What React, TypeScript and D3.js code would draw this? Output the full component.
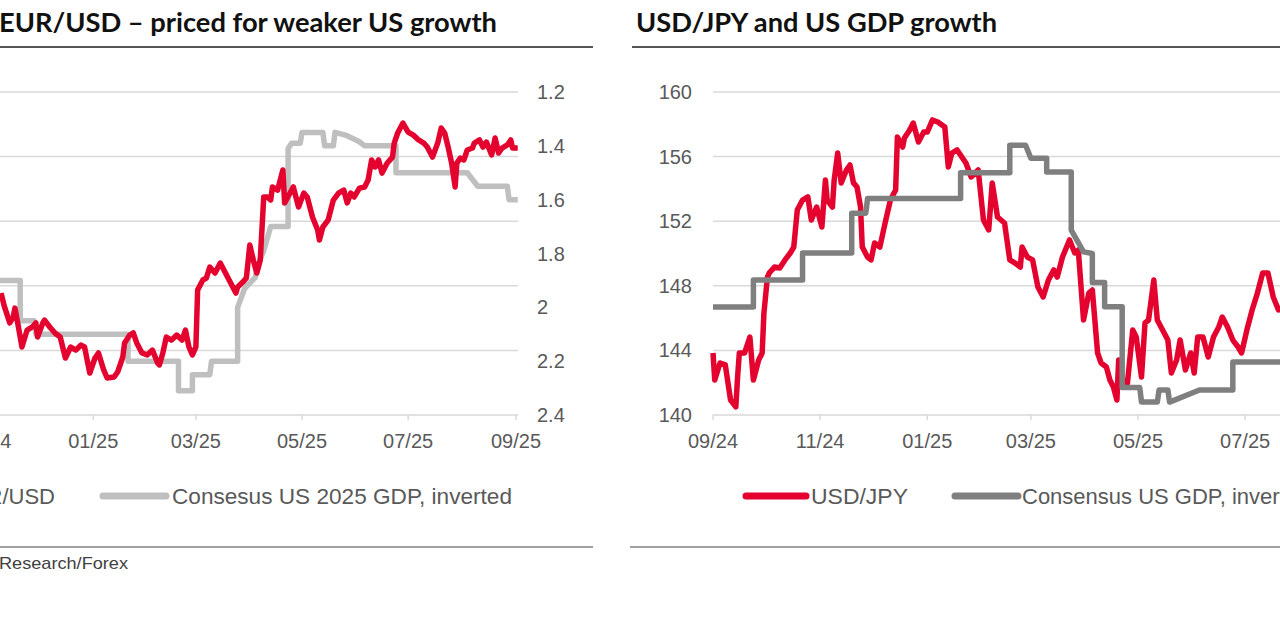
import React from "react";
import * as d3 from "d3";

// ---------- DATA ----------
const eurusd: [string, number][] = [
  ["2024-11-09", 1.0755], ["2024-11-11", 1.0669], ["2024-11-14", 1.057], ["2024-11-16", 1.0607],
  ["2024-11-17", 1.0662], ["2024-11-19", 1.0545], ["2024-11-21", 1.0421], ["2024-11-24", 1.0526],
  ["2024-11-27", 1.0545], ["2024-11-29", 1.057], ["2024-11-30", 1.0483], ["2024-12-03", 1.057],
  ["2024-12-04", 1.0588], ["2024-12-07", 1.0545], ["2024-12-10", 1.0508], ["2024-12-13", 1.0483],
  ["2024-12-16", 1.0353], ["2024-12-19", 1.0421], ["2024-12-22", 1.0402], ["2024-12-25", 1.0433],
  ["2024-12-27", 1.0421], ["2024-12-30", 1.026], ["2025-01-02", 1.0353], ["2025-01-04", 1.0384],
  ["2025-01-07", 1.0279], ["2025-01-09", 1.0229], ["2025-01-13", 1.0235], ["2025-01-15", 1.0266],
  ["2025-01-18", 1.0359], ["2025-01-19", 1.0446], ["2025-01-22", 1.0495], ["2025-01-24", 1.0508],
  ["2025-01-26", 1.0446], ["2025-01-29", 1.0384], ["2025-02-01", 1.0372], ["2025-02-04", 1.0402],
  ["2025-02-07", 1.0322], ["2025-02-08", 1.031], ["2025-02-10", 1.0384], ["2025-02-12", 1.0483],
  ["2025-02-15", 1.0464], ["2025-02-18", 1.0495], ["2025-02-21", 1.0464], ["2025-02-23", 1.0526],
  ["2025-02-25", 1.0421], ["2025-02-27", 1.0372], ["2025-03-01", 1.0421], ["2025-03-02", 1.0774],
  ["2025-03-05", 1.0836], ["2025-03-07", 1.0848], ["2025-03-09", 1.0916], ["2025-03-12", 1.0879],
  ["2025-03-15", 1.0941], ["2025-03-18", 1.0879], ["2025-03-21", 1.0817], ["2025-03-24", 1.0755],
  ["2025-03-25", 1.0792], ["2025-03-28", 1.0823], ["2025-03-30", 1.0848], ["2025-04-01", 1.1052],
  ["2025-04-03", 1.096], ["2025-04-05", 1.0879], ["2025-04-07", 1.096], ["2025-04-09", 1.135],
  ["2025-04-11", 1.135], ["2025-04-13", 1.1331], ["2025-04-14", 1.1412], ["2025-04-17", 1.1393],
  ["2025-04-20", 1.1517], ["2025-04-21", 1.1313], ["2025-04-26", 1.1412], ["2025-04-29", 1.1288],
  ["2025-05-02", 1.1374], ["2025-05-04", 1.135], ["2025-05-07", 1.1226], ["2025-05-10", 1.1146],
  ["2025-05-11", 1.1084], ["2025-05-13", 1.1164], ["2025-05-16", 1.1207], ["2025-05-19", 1.1331],
  ["2025-05-22", 1.1374], ["2025-05-25", 1.1393], ["2025-05-27", 1.1313], ["2025-05-29", 1.1374],
  ["2025-05-31", 1.135], ["2025-06-03", 1.1405], ["2025-06-06", 1.1412], ["2025-06-08", 1.1455],
  ["2025-06-10", 1.1579], ["2025-06-12", 1.1536], ["2025-06-14", 1.1579], ["2025-06-16", 1.1498],
  ["2025-06-19", 1.156], ["2025-06-22", 1.1597], ["2025-06-23", 1.1684], ["2025-06-25", 1.1746],
  ["2025-06-28", 1.1808], ["2025-07-01", 1.1752], ["2025-07-04", 1.1733], ["2025-07-07", 1.1703],
  ["2025-07-10", 1.1684], ["2025-07-12", 1.1659], ["2025-07-15", 1.1597], ["2025-07-18", 1.1684],
  ["2025-07-20", 1.1777], ["2025-07-22", 1.1746], ["2025-07-24", 1.1659], ["2025-07-26", 1.156],
  ["2025-07-28", 1.1412], ["2025-07-29", 1.156], ["2025-07-31", 1.1591], ["2025-08-02", 1.1579],
  ["2025-08-04", 1.1641], ["2025-08-07", 1.1653], ["2025-08-08", 1.1684], ["2025-08-11", 1.1703],
  ["2025-08-13", 1.1659], ["2025-08-15", 1.169], ["2025-08-18", 1.161], ["2025-08-20", 1.1715],
  ["2025-08-22", 1.1622], ["2025-08-24", 1.1653], ["2025-08-27", 1.1672], ["2025-08-29", 1.1703],
  ["2025-08-30", 1.1653], ["2025-09-02", 1.1653],
];

const gdp2025Inverted: [string, number][] = [
  ["2024-11-06", 1.9], ["2024-11-20", 1.9], ["2024-11-20", 2.05], ["2024-11-28", 2.05],
  ["2024-11-29", 2.1], ["2025-01-21", 2.1], ["2025-01-21", 2.2], ["2025-02-19", 2.2],
  ["2025-02-19", 2.31], ["2025-02-27", 2.31], ["2025-02-27", 2.25], ["2025-03-09", 2.25],
  ["2025-03-10", 2.2], ["2025-03-25", 2.2], ["2025-03-25", 2.0], ["2025-03-29", 1.93],
  ["2025-04-04", 1.89], ["2025-04-07", 1.82], ["2025-04-09", 1.79], ["2025-04-13", 1.7],
  ["2025-04-23", 1.7], ["2025-04-23", 1.41], ["2025-04-25", 1.39], ["2025-04-30", 1.39],
  ["2025-05-01", 1.35], ["2025-05-13", 1.35], ["2025-05-14", 1.4], ["2025-05-19", 1.4],
  ["2025-05-20", 1.35], ["2025-05-26", 1.36], ["2025-06-03", 1.385], ["2025-06-06", 1.4],
  ["2025-06-24", 1.4], ["2025-06-24", 1.5], ["2025-08-04", 1.5], ["2025-08-10", 1.55],
  ["2025-08-27", 1.55], ["2025-08-28", 1.6], ["2025-09-02", 1.6],
];

const usdjpy: [string, number][] = [
  ["2024-09-01", 143.84], ["2024-09-02", 142.17], ["2024-09-05", 143.22], ["2024-09-08", 143.1],
  ["2024-09-11", 140.93], ["2024-09-14", 140.5], ["2024-09-15", 142.35], ["2024-09-16", 143.84],
  ["2024-09-19", 143.84], ["2024-09-22", 144.83], ["2024-09-24", 142.17], ["2024-09-27", 143.41],
  ["2024-09-29", 143.84], ["2024-09-30", 146.32], ["2024-10-02", 148.54], ["2024-10-03", 148.79],
  ["2024-10-06", 149.16], ["2024-10-09", 149.1], ["2024-10-12", 149.6], ["2024-10-15", 150.03],
  ["2024-10-17", 150.4], ["2024-10-19", 152.69], ["2024-10-22", 153.31], ["2024-10-25", 153.5],
  ["2024-10-27", 152.07], ["2024-10-30", 152.88], ["2024-11-02", 151.64], ["2024-11-04", 154.55],
  ["2024-11-05", 153.31], ["2024-11-08", 152.88], ["2024-11-09", 154.55], ["2024-11-11", 156.22],
  ["2024-11-13", 154.37], ["2024-11-16", 155.17], ["2024-11-18", 155.48], ["2024-11-20", 154.37],
  ["2024-11-22", 154.12], ["2024-11-24", 152.88], ["2024-11-25", 150.4], ["2024-11-28", 149.78],
  ["2024-11-30", 149.6], ["2024-12-02", 150.65], ["2024-12-05", 150.4], ["2024-12-08", 151.89],
  ["2024-12-11", 153.31], ["2024-12-14", 153.93], ["2024-12-15", 157.21], ["2024-12-18", 156.59],
  ["2024-12-19", 157.15], ["2024-12-22", 157.65], ["2024-12-24", 158.08], ["2024-12-27", 156.9],
  ["2024-12-30", 157.52], ["2025-01-01", 157.52], ["2025-01-04", 158.27], ["2025-01-07", 158.14],
  ["2025-01-11", 157.83], ["2025-01-13", 155.36], ["2025-01-15", 156.22], ["2025-01-18", 156.41],
  ["2025-01-23", 155.6], ["2025-01-26", 154.74], ["2025-01-30", 155.17], ["2025-02-02", 152.07],
  ["2025-02-05", 151.46], ["2025-02-07", 154.37], ["2025-02-10", 152.26], ["2025-02-14", 151.89],
  ["2025-02-17", 149.6], ["2025-02-20", 149.41], ["2025-02-23", 149.16], ["2025-02-24", 150.4],
  ["2025-02-27", 149.78], ["2025-03-02", 149.6], ["2025-03-05", 147.93], ["2025-03-08", 147.31],
  ["2025-03-11", 148.36], ["2025-03-14", 148.98], ["2025-03-16", 148.54], ["2025-03-19", 149.78],
  ["2025-03-23", 150.84], ["2025-03-26", 150.03], ["2025-03-28", 150.22], ["2025-03-31", 145.88],
  ["2025-04-03", 147.55], ["2025-04-05", 147.74], ["2025-04-08", 143.84], ["2025-04-10", 143.22],
  ["2025-04-13", 142.97], ["2025-04-15", 142.17], ["2025-04-17", 141.73], ["2025-04-19", 140.93],
  ["2025-04-20", 143.41], ["2025-04-22", 142.17], ["2025-04-25", 141.98], ["2025-04-28", 145.26],
  ["2025-04-30", 144.83], ["2025-05-03", 142.35], ["2025-05-05", 145.7], ["2025-05-07", 145.88],
  ["2025-05-10", 148.36], ["2025-05-12", 145.88], ["2025-05-15", 145.26], ["2025-05-18", 144.64],
  ["2025-05-20", 142.6], ["2025-05-23", 143.41], ["2025-05-25", 144.64], ["2025-05-28", 142.79],
  ["2025-05-31", 143.84], ["2025-06-02", 142.6], ["2025-06-04", 144.83], ["2025-06-07", 144.83],
  ["2025-06-10", 143.59], ["2025-06-13", 144.83], ["2025-06-16", 145.45], ["2025-06-18", 146.07],
  ["2025-06-21", 145.45], ["2025-06-24", 144.64], ["2025-06-27", 144.21], ["2025-06-29", 143.84],
  ["2025-07-02", 145.26], ["2025-07-05", 146.5], ["2025-07-08", 147.55], ["2025-07-11", 148.79],
  ["2025-07-14", 148.79], ["2025-07-17", 147.31], ["2025-07-20", 146.5], ["2025-07-24", 146.81],
];

const gdpConsensusScaled: [string, number][] = [
  ["2024-09-01", 146.69], ["2024-09-24", 146.69], ["2024-09-24", 148.36], ["2024-10-22", 148.36],
  ["2024-10-22", 150.03], ["2024-11-19", 150.03], ["2024-11-19", 152.5], ["2024-11-27", 152.5],
  ["2024-11-28", 153.4], ["2025-01-20", 153.4], ["2025-01-20", 155.0], ["2025-02-17", 155.0],
  ["2025-02-17", 156.7], ["2025-02-26", 156.7], ["2025-03-01", 155.9], ["2025-03-10", 155.9],
  ["2025-03-10", 155.05], ["2025-03-24", 155.05], ["2025-03-24", 151.45], ["2025-03-31", 150.1],
  ["2025-04-05", 150.0], ["2025-04-05", 148.2], ["2025-04-12", 148.2], ["2025-04-12", 146.7],
  ["2025-04-22", 146.7], ["2025-04-22", 141.7], ["2025-05-02", 141.7], ["2025-05-03", 140.8],
  ["2025-05-12", 140.8], ["2025-05-13", 141.55], ["2025-05-18", 141.55], ["2025-05-19", 140.8],
  ["2025-06-05", 141.55], ["2025-06-24", 141.55], ["2025-06-24", 143.28], ["2025-07-24", 143.28],
];

const xTicks = ["2024-09-01", "2024-11-01", "2025-01-01", "2025-03-01", "2025-05-01", "2025-07-01", "2025-09-01"];
const xDomain = ["2024-09-01", "2025-09-01"];
const eurGrid = [1.0, 1.04, 1.08, 1.12, 1.16, 1.2];
const gdpTicks = [1.2, 1.4, 1.6, 1.8, 2.0, 2.2, 2.4];
const jpyTicks = [140, 144, 148, 152, 156, 160];

const titleLeft = "EUR/USD – priced for weaker US growth";
const titleRight = "USD/JPY and US GDP growth";
const legendLeft = ["EUR/USD", "Consesus US 2025 GDP, inverted"];
const legendRight = ["USD/JPY", "Consensus US GDP, inverted"];
const sourceText = "Research/Forex";

// ---------- STYLE ----------
const RED = "#e4032e";
const GREY_L = "#bfbfbf";
const GREY_D = "#7f7f7f";
const GRID = "#d9d9d9";
const LABEL = "#595959";
const SANS = "'Liberation Sans', Arial, sans-serif";
const TITLE_FONT = "Lato, 'Open Sans', sans-serif";

const parse = d3.utcParse("%Y-%m-%d");
const fmt = d3.utcFormat("%m/%y");

export default function App() {
  const dom = xDomain.map((s) => parse(s) as Date);
  const xL = d3.scaleUtc().domain(dom).range([-119, 516]);
  const xR = d3.scaleUtc().domain(dom).range([713, 1354]);
  const yEur = d3.scaleLinear().domain([1.0, 1.2]).range([415, 92]);
  const yGdp = d3.scaleLinear().domain([1.2, 2.4]).range([92, 415]);
  const yJpy = d3.scaleLinear().domain([140, 160]).range([415, 92]);

  const mk = (x: any, y: any) =>
    d3.line<[string, number]>().x((d) => x(parse(d[0]) as Date)).y((d) => y(d[1]));

  const lineW = 5.5;

  return (
    <svg width={1280} height={640} style={{ position: "absolute", left: 0, top: 0, background: "#fff" }}>
      {/* Titles */}
      <text x={-1} y={32} fontFamily={TITLE_FONT} fontWeight={700} fontSize={26} fill="#111"
        textLength={498} lengthAdjust="spacingAndGlyphs">{titleLeft}</text>
      <text x={636} y={32} fontFamily={TITLE_FONT} fontWeight={700} fontSize={26} fill="#111"
        textLength={361} lengthAdjust="spacingAndGlyphs">{titleRight}</text>
      <line x1={-10} x2={593} y1={47} y2={47} stroke="#555" strokeWidth={2} />
      <line x1={632} x2={1290} y1={47} y2={47} stroke="#555" strokeWidth={2} />

      {/* LEFT PANEL */}
      <g>
        {eurGrid.map((v) => (
          <line key={v} x1={-125} x2={518} y1={yEur(v)} y2={yEur(v)} stroke={GRID} strokeWidth={1.5} />
        ))}
        {xTicks.map((t) => {
          const x = xL(parse(t) as Date);
          return (
            <g key={t}>
              <line x1={x} x2={x} y1={415} y2={420} stroke={GRID} strokeWidth={1.5} />
              <text x={x} y={448} textAnchor="middle" fontFamily={SANS} fontSize={20} fill={LABEL}>
                {fmt(parse(t) as Date)}
              </text>
            </g>
          );
        })}
        {gdpTicks.map((v) => (
          <text key={v} x={537} y={yGdp(v)} dy="0.35em" fontFamily={SANS} fontSize={20} fill={LABEL}>
            {d3.format("~g")(v)}
          </text>
        ))}
        <path d={mk(xL, yGdp)(gdp2025Inverted) || ""} fill="none" stroke={GREY_L} strokeWidth={lineW} strokeLinejoin="round" />
        <path d={mk(xL, yEur)(eurusd) || ""} fill="none" stroke={RED} strokeWidth={lineW} strokeLinejoin="round" />
      </g>

      {/* RIGHT PANEL */}
      <g>
        {jpyTicks.map((v) => (
          <g key={v}>
            <line x1={713} x2={1356} y1={yJpy(v)} y2={yJpy(v)} stroke={GRID} strokeWidth={1.5} />
            <text x={692} y={yJpy(v)} dy="0.35em" textAnchor="end" fontFamily={SANS} fontSize={20} fill={LABEL}>
              {v}
            </text>
          </g>
        ))}
        {xTicks.map((t) => {
          const x = xR(parse(t) as Date);
          return (
            <g key={t}>
              <line x1={x} x2={x} y1={415} y2={420} stroke={GRID} strokeWidth={1.5} />
              <text x={x} y={448} textAnchor="middle" fontFamily={SANS} fontSize={20} fill={LABEL}>
                {fmt(parse(t) as Date)}
              </text>
            </g>
          );
        })}
        <path d={mk(xR, yJpy)(usdjpy) || ""} fill="none" stroke={RED} strokeWidth={lineW} strokeLinejoin="round" />
        <path d={mk(xR, yJpy)(gdpConsensusScaled) || ""} fill="none" stroke={GREY_D} strokeWidth={lineW} strokeLinejoin="round" />
      </g>

      {/* Legends */}
      <line x1={-110} x2={-48} y1={496} y2={496} stroke={RED} strokeWidth={7} strokeLinecap="round" />
      <text x={55} y={504} textAnchor="end" fontFamily={SANS} fontSize={22} fill={LABEL}>{legendLeft[0]}</text>
      <line x1={103} x2={166} y1={496} y2={496} stroke={GREY_L} strokeWidth={7} strokeLinecap="round" />
      <text x={172} y={504} fontFamily={SANS} fontSize={22} fill={LABEL} textLength={340} lengthAdjust="spacingAndGlyphs">{legendLeft[1]}</text>

      <line x1={746} x2={806} y1={496} y2={496} stroke={RED} strokeWidth={7} strokeLinecap="round" />
      <text x={811} y={504} fontFamily={SANS} fontSize={22} fill={LABEL} textLength={97} lengthAdjust="spacingAndGlyphs">{legendRight[0]}</text>
      <line x1={955} x2={1018} y1={496} y2={496} stroke={GREY_D} strokeWidth={7} strokeLinecap="round" />
      <text x={1022} y={504} fontFamily={SANS} fontSize={22} fill={LABEL}>{legendRight[1]}</text>

      {/* Bottom rules & source */}
      <line x1={-10} x2={593} y1={547} y2={547} stroke="#808080" strokeWidth={1.5} />
      <line x1={630} x2={1290} y1={547} y2={547} stroke="#808080" strokeWidth={1.5} />
      <text x={128} y={569} textAnchor="end" fontFamily={SANS} fontSize={17} fill="#404040"
        textLength={129} lengthAdjust="spacingAndGlyphs">{sourceText}</text>
    </svg>
  );
}
